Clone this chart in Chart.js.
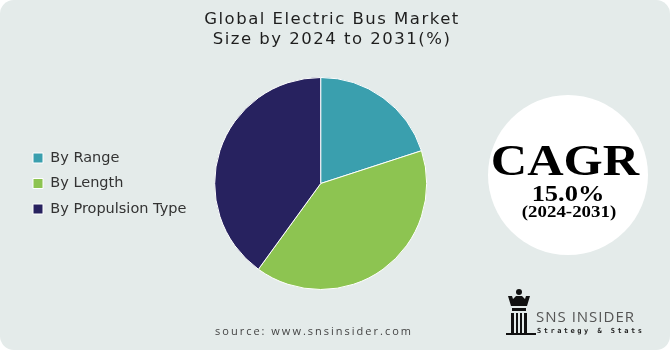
<!DOCTYPE html>
<html>
<head>
<meta charset="utf-8">
<script src="https://cdn.jsdelivr.net/npm/chart.js@4/dist/chart.umd.min.js"></script>
<style>
    body { margin: 0; background: #ffffff; }
    #wrap { width: 670px; height: 350px; position: relative; }
</style>
</head>
<body>
<div id="wrap"><canvas id="myChart"></canvas></div>
<script>
// data
const segments = ['By Range', 'By Length', 'By Propulsion Type'];
const shares = [20, 40, 40];
const segmentColors = ['#3a9fae', '#8dc451', '#27225f'];
const titleLines = ['Global Electric Bus Market', 'Size by 2024 to 2031(%)'];
const cagrValue = '15.0%';
const cagrPeriod = '(2024-2031)';
const sourceText = 'source: www.snsinsider.com';

const sansFont = '"DejaVu Sans", sans-serif';
const thinFont = '"Open Sans", sans-serif';
const serifFont = '"Liberation Serif", serif';

// background, title, cagr badge, source and logo
const decorPlugin = {
    id: 'decor',
    beforeDraw(chart) {
        const c = chart.ctx;
        c.save();
        c.fillStyle = '#e4ebea';
        c.beginPath();
        c.roundRect(0, 0, chart.width, chart.height, 14);
        c.fill();
        c.restore();
    },
    afterDraw(chart) {
        const c = chart.ctx;
        c.save();
        // title
        c.fillStyle = '#1e1e1e';
        c.textAlign = 'center';
        c.textBaseline = 'middle';
        c.font = '16.5px ' + sansFont;
        c.letterSpacing = '1.5px';
        c.fillText(titleLines[0], 332, 20);
        c.fillText(titleLines[1], 332, 40);

        // source
        c.fillStyle = '#444444';
        c.font = '11px ' + thinFont;
        c.letterSpacing = '2px';
        c.fillText(sourceText, 314, 332);
        c.letterSpacing = '0px';

        // cagr circle
        c.fillStyle = '#ffffff';
        c.beginPath();
        c.arc(568, 175, 80, 0, Math.PI * 2);
        c.fill();
        c.fillStyle = '#000000';
        c.save();
        c.translate(565, 164);
        c.scale(1.2, 1.05);
        c.font = 'bold 42px ' + serifFont;
        c.fillText('CAGR', 0, 0);
        c.restore();
        c.save();
        c.translate(568, 195);
        c.scale(1.15, 1);
        c.font = 'bold 23px ' + serifFont;
        c.fillText(cagrValue, 0, 0);
        c.restore();
        c.save();
        c.translate(569, 213);
        c.scale(1.18, 1);
        c.font = 'bold 16px ' + serifFont;
        c.fillText(cagrPeriod, 0, 0);
        c.restore();

        // logo
        c.fillStyle = '#111111';
        c.beginPath();
        c.arc(519, 292, 3, 0, Math.PI * 2);
        c.fill();
        c.beginPath();
        c.moveTo(508, 296); c.lineTo(512, 296); c.lineTo(513, 299); c.lineTo(516, 296);
        c.lineTo(522, 296); c.lineTo(525, 299); c.lineTo(526, 296); c.lineTo(530, 296);
        c.lineTo(527, 306); c.lineTo(511, 306);
        c.closePath();
        c.fill();
        c.fillRect(512, 308, 14, 3);
        c.fillRect(511, 313, 3, 20);
        c.fillRect(516, 313, 2, 20);
        c.fillRect(520, 313, 2, 20);
        c.fillRect(524, 313, 3, 20);
        c.fillRect(506, 333, 30, 2);
        c.textAlign = 'left';
        c.fillStyle = '#555555';
        c.font = '15px ' + thinFont;
        c.letterSpacing = '1px';
        c.fillText('SNS INSIDER', 536, 318);
        c.fillStyle = '#222222';
        c.font = 'bold 7px "DejaVu Sans Mono", monospace';
        c.letterSpacing = '2.5px';
        c.fillText('Strategy & Stats', 537, 331);
        c.restore();
    }
};

const ctx = document.getElementById('myChart').getContext('2d');
const myChart = new Chart(ctx, {
    type: 'pie',
    data: {
        labels: segments,
        datasets: [{
            data: shares,
            backgroundColor: segmentColors,
            borderColor: '#ffffff',
            borderWidth: 1
        }]
    },
    options: {
        responsive: true,
        maintainAspectRatio: false,
        animation: false,
        layout: {
            padding: { left: 22, right: 225, top: 77, bottom: 60 }
        },
        plugins: {
            legend: {
                position: 'left',
                align: 'center',
                labels: {
                    boxWidth: 10,
                    boxHeight: 10,
                    padding: 11,
                    color: '#333333',
                    font: { family: sansFont, size: 14.5 }
                }
            },
            tooltip: { enabled: false }
        }
    },
    plugins: [decorPlugin]
});
</script>
</body>
</html>
